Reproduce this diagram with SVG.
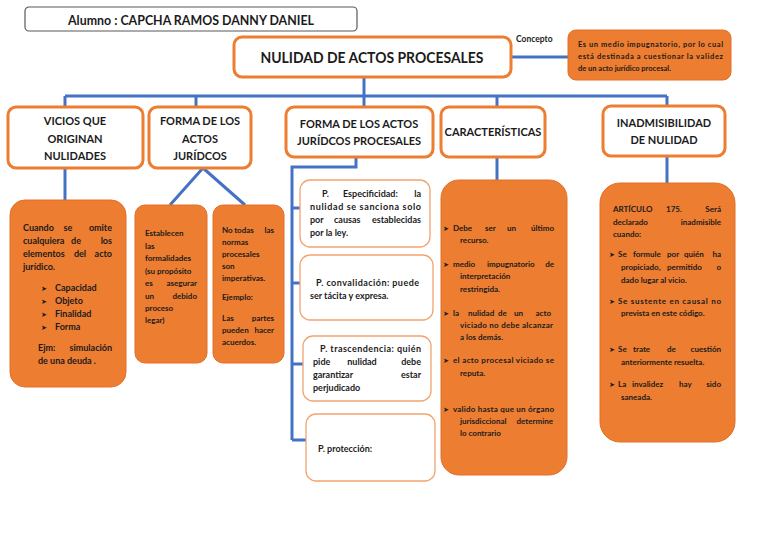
<svg xmlns="http://www.w3.org/2000/svg" width="768" height="543" viewBox="0 0 768 543">
<style>
text{font-family:"Lato","Liberation Sans",sans-serif;fill:#1b1b1b;font-weight:bold}
.ob{fill:#fff;stroke:#ED7D31;stroke-width:3}
.ot{fill:#fff;stroke:#F2A470;stroke-width:1.3}
.of{fill:#ED7D31;stroke:#E2702A;stroke-width:1}
.ln{fill:none;stroke:#4472C4;stroke-width:3}
.h{font-size:11px;text-anchor:middle}
.s9{font-size:9px}
.s8{font-size:8px}
.s7{font-size:7.5px}
.bu{font-family:"DejaVu Sans",sans-serif;font-size:7px}
.e{text-anchor:end}
.m{text-anchor:middle}
</style>
<rect width="768" height="543" fill="#fff"/>
<g id="connectors">
<path class="ln" d="M364 77V107M65 96H667M65 96V107M196 96V107M497 96V107M667 96V106"/>
<path class="ln" stroke-width="2" d="M511 57H568"/>
<path class="ln" d="M65 168V200M203 168L170 205M203 168L245 205"/>
<path class="ln" d="M356 157V167H292V440M292 208H301M292 283H301M292 364H303M292 440H306"/>
<path class="ln" d="M497 157V180M667 156V183"/>
</g>
<g id="alumno">
<rect x="25" y="7" width="332" height="24" rx="4" fill="#fff" stroke="#595959" stroke-width="1.2"/>
<text x="191" y="25" font-size="13" text-anchor="middle" font-weight="600" textLength="246" lengthAdjust="spacingAndGlyphs">Alumno : CAPCHA RAMOS DANNY DANIEL</text>
</g>
<g id="main">
<rect class="ob" x="234" y="37" width="277" height="40" rx="8"/>
<text x="372" y="63" font-size="15" text-anchor="middle" textLength="223" lengthAdjust="spacingAndGlyphs">NULIDAD DE ACTOS PROCESALES</text>
</g>
<g id="concepto-label"><text x="516" y="42" font-size="8.5">Concepto</text></g>
<g id="concepto">
<rect class="of" x="568" y="30" width="163" height="50" rx="8"/>
<text class="s7" x="578" y="47" textLength="145" lengthAdjust="spacing">Es un medio impugnatorio, por lo cual</text>
<text class="s7" x="578" y="59" textLength="145">está destinada a cuestionar la validez</text>
<text class="s7" x="578" y="71">de un acto jurídico procesal.</text>
</g>
<g id="vicios">
<rect class="ob" x="8" y="107" width="135" height="61" rx="8"/>
<text class="h" x="75" y="125">VICIOS QUE</text>
<text class="h" x="75" y="143">ORIGINAN</text>
<text class="h" x="75" y="160">NULIDADES</text>
</g>
<g id="forma-actos">
<rect class="ob" x="149" y="107" width="102" height="61" rx="8"/>
<text class="h" x="200" y="125">FORMA DE LOS</text>
<text class="h" x="200" y="143">ACTOS</text>
<text class="h" x="200" y="160">JURÍDCOS</text>
</g>
<g id="forma-procesales">
<rect class="ob" x="286" y="107" width="147" height="50" rx="8"/>
<text class="h" x="359" y="128">FORMA DE LOS ACTOS</text>
<text class="h" x="359" y="145">JURÍDCOS PROCESALES</text>
</g>
<g id="caracteristicas">
<rect class="ob" x="441" y="107" width="104" height="50" rx="8"/>
<text class="h" x="493" y="136" font-size="9">CARACTERÍSTICAS</text>
</g>
<g id="inadmisibilidad">
<rect class="ob" x="603" y="106" width="122" height="50" rx="8"/>
<text class="h" x="664" y="127">INADMISIBILIDAD</text>
<text class="h" x="664" y="144">DE NULIDAD</text>
</g>
<g id="vicios-detalle">
<rect class="of" x="10" y="200" width="116" height="187" rx="15"/>
<text class="s9" y="231"><tspan x="23">Cuando</tspan><tspan x="68" class="m">se</tspan><tspan x="112" class="e">omite</tspan></text>
<text class="s9" y="244"><tspan x="23">cualquiera</tspan><tspan x="76" class="m">de</tspan><tspan x="112" class="e">los</tspan></text>
<text class="s9" y="257"><tspan x="23">elementos</tspan><tspan x="80" class="m">del</tspan><tspan x="112" class="e">acto</tspan></text>
<text class="s9" x="23" y="270">jurídico.</text>
<text class="bu" x="41" y="291">➤</text><text class="s9" x="55" y="291">Capacidad</text>
<text class="bu" x="41" y="304">➤</text><text class="s9" x="55" y="304">Objeto</text>
<text class="bu" x="41" y="317">➤</text><text class="s9" x="55" y="317">Finalidad</text>
<text class="bu" x="41" y="330">➤</text><text class="s9" x="55" y="330">Forma</text>
<text class="s9" y="351"><tspan x="38">Ejm:</tspan><tspan x="112" class="e">simulación</tspan></text>
<text class="s9" x="38" y="364">de una deuda .</text>
</g>
<g id="establecen">
<rect class="of" x="135" y="205" width="72" height="158" rx="10"/>
<text class="s8" x="145" y="236">Establecen</text>
<text class="s8" x="145" y="249">las</text>
<text class="s8" x="145" y="261">formalidades</text>
<text class="s8" x="145" y="274">(su propósito</text>
<text class="s8" y="286"><tspan x="145">es</tspan><tspan x="197" class="e">asegurar</tspan></text>
<text class="s8" y="299"><tspan x="145">un</tspan><tspan x="197" class="e">debido</tspan></text>
<text class="s8" x="145" y="311">proceso</text>
<text class="s8" x="145" y="323">legar)</text>
</g>
<g id="no-todas">
<rect class="of" x="213" y="205" width="71" height="158" rx="10"/>
<text class="s8" y="233"><tspan x="222">No</tspan><tspan x="244" class="m">todas</tspan><tspan x="274" class="e">las</tspan></text>
<text class="s8" x="222" y="245">normas</text>
<text class="s8" x="222" y="257">procesales</text>
<text class="s8" x="222" y="269">son</text>
<text class="s8" x="222" y="281">imperativas.</text>
<text class="s8" x="222" y="300">Ejemplo:</text>
<text class="s8" y="321"><tspan x="222">Las</tspan><tspan x="274" class="e">partes</tspan></text>
<text class="s8" y="333"><tspan x="222">pueden</tspan><tspan x="274" class="e">hacer</tspan></text>
<text class="s8" x="222" y="345">acuerdos.</text>
</g>
<g id="especificidad">
<rect class="ot" x="300" y="180" width="130" height="67" rx="10"/>
<text class="s9" y="197"><tspan x="322">P.</tspan><tspan x="343">Especificidad:</tspan><tspan x="421" class="e">la</tspan></text>
<text class="s9" x="310" y="210" textLength="111" lengthAdjust="spacing">nulidad se sanciona solo</text>
<text class="s9" y="223"><tspan x="310">por</tspan><tspan x="334">causas</tspan><tspan x="421" class="e">establecidas</tspan></text>
<text class="s9" x="310" y="236">por la ley.</text>
</g>
<g id="convalidacion">
<rect class="ot" x="300" y="255" width="133" height="65" rx="10"/>
<text class="s9" x="316" y="286" textLength="103">P. convalidación: puede</text>
<text class="s9" x="310" y="299">ser tácita y expresa.</text>
</g>
<g id="trascendencia">
<rect class="ot" x="303" y="336" width="128" height="65" rx="10"/>
<text class="s9" x="320" y="352" textLength="101">P. trascendencia: quién</text>
<text class="s9" y="365"><tspan x="313">pide</tspan><tspan x="362" class="m">nulidad</tspan><tspan x="421" class="e">debe</tspan></text>
<text class="s9" y="378"><tspan x="313">garantizar</tspan><tspan x="421" class="e">estar</tspan></text>
<text class="s9" x="313" y="391">perjudicado</text>
</g>
<g id="proteccion">
<rect class="ot" x="306" y="414" width="129" height="67" rx="10"/>
<text class="s9" x="318" y="452">P. protección:</text>
</g>
<g id="caracteristicas-detalle">
<rect class="of" x="441" y="180" width="126" height="295" rx="18"/>
<text class="bu" x="443" y="231">➤</text><text class="s8" y="231"><tspan x="453">Debe</tspan><tspan x="485">ser</tspan><tspan x="507">un</tspan><tspan x="554" class="e">último</tspan></text>
<text class="s8" x="460" y="243">recurso.</text>
<text class="bu" x="443" y="267">➤</text><text class="s8" y="267"><tspan x="453">medio</tspan><tspan x="487">impugnatorio</tspan><tspan x="554" class="e">de</tspan></text>
<text class="s8" x="460" y="279">interpretación</text>
<text class="s8" x="460" y="292">restringida.</text>
<text class="bu" x="443" y="316">➤</text><text class="s8" y="316"><tspan x="453">la</tspan><tspan x="468">nulidad</tspan><tspan x="498">de</tspan><tspan x="514">un</tspan><tspan x="551" class="e">acto</tspan></text>
<text class="s8" x="460" y="328" textLength="93" lengthAdjust="spacing">viciado no debe alcanzar</text>
<text class="s8" x="460" y="340">a los demás.</text>
<text class="bu" x="443" y="363">➤</text><text class="s8" x="453" y="363" textLength="101">el acto procesal viciado se</text>
<text class="s8" x="460" y="376">reputa.</text>
<text class="bu" x="443" y="412">➤</text><text class="s8" x="453" y="412" textLength="101">valido hasta que un órgano</text>
<text class="s8" y="424"><tspan x="460">jurisdiccional</tspan><tspan x="553" class="e">determine</tspan></text>
<text class="s8" x="460" y="436">lo contrario</text>
</g>
<g id="articulo">
<rect class="of" x="600" y="183" width="135" height="259" rx="20"/>
<text class="s8" y="212"><tspan x="613">ARTÍCULO</tspan><tspan x="674" class="m">175.</tspan><tspan x="721" class="e">Será</tspan></text>
<text class="s8" y="225"><tspan x="613">declarado</tspan><tspan x="721" class="e">inadmisible</tspan></text>
<text class="s8" x="613" y="237">cuando:</text>
<text class="bu" x="609" y="257">➤</text><text class="s8" y="257"><tspan x="618">Se</tspan><tspan x="633">formule</tspan><tspan x="667">por</tspan><tspan x="684">quién</tspan><tspan x="721" class="e">ha</tspan></text>
<text class="s8" y="270"><tspan x="621">propiciado,</tspan><tspan x="667">permitido</tspan><tspan x="721" class="e">o</tspan></text>
<text class="s8" x="621" y="283">dado lugar al vicio.</text>
<text class="bu" x="609" y="304">➤</text><text class="s8" x="618" y="304" textLength="103" lengthAdjust="spacing">Se sustente en causal no</text>
<text class="s8" x="621" y="316">prevista en este código.</text>
<text class="bu" x="609" y="352">➤</text><text class="s8" y="352"><tspan x="618">Se</tspan><tspan x="633">trate</tspan><tspan x="667">de</tspan><tspan x="721" class="e">cuestión</tspan></text>
<text class="s8" x="621" y="365">anteriormente resuelta.</text>
<text class="bu" x="609" y="387">➤</text><text class="s8" y="387"><tspan x="618">La</tspan><tspan x="632">invalidez</tspan><tspan x="679">hay</tspan><tspan x="721" class="e">sido</tspan></text>
<text class="s8" x="621" y="400">saneada.</text>
</g>
</svg>
